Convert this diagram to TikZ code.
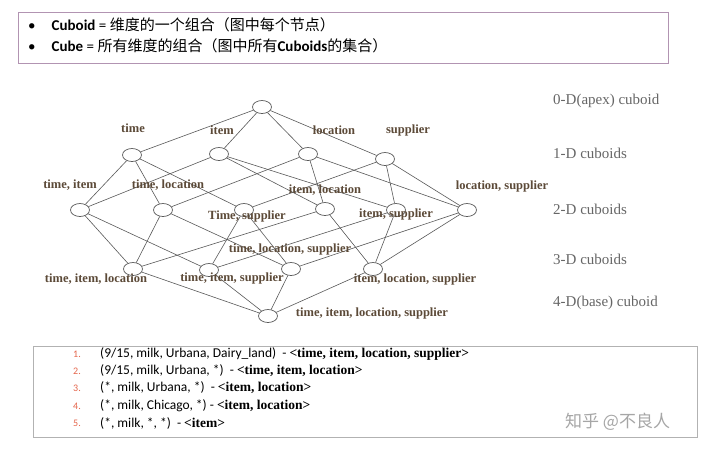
\documentclass[tikz,border=0pt]{standalone}
\usepackage{fontspec}
\usetikzlibrary{shapes.geometric}
\setmainfont{Liberation Serif}
\newfontfamily\carlito{Carlito}
\newfontfamily\cjk{Noto Sans CJK SC}
\begin{document}
\begin{tikzpicture}[x=1pt,y=-1pt,
  cub/.style={draw=black!65,ellipse,minimum width=19pt,minimum height=13pt,inner sep=0pt,line width=0.7pt,fill=white},
  lbl/.style={text=black!60!brown!70!gray,font=\bfseries\fontsize{12.5}{13}\selectfont,inner sep=0pt},
  lvl/.style={text=black!60,font=\fontsize{15}{16}\selectfont,anchor=west,inner sep=0pt},
  ed/.style={draw=black!65,line width=0.6pt}]
\useasboundingbox (0,0) rectangle (716,451);
\fill[white] (0,0) rectangle (716,451);
% top box
\node[draw=violet!40!gray!60,line width=0.6pt,minimum width=650pt,minimum height=51pt,anchor=north west] (tb) at (18,12) {};
\node[anchor=west,font=\carlito\fontsize{15}{16}\selectfont,inner sep=0pt] (b1) at (28,25) {•\hspace{16pt}\textbf{Cuboid} = {\cjk 维度的一个组合（图中每个节点）}};
\node[anchor=west,font=\carlito\fontsize{15}{16}\selectfont,inner sep=0pt] (b2) at (28,46) {•\hspace{16pt}\textbf{Cube} = {\cjk 所有维度的组合（图中所有}\textbf{Cuboids}{\cjk 的集合）}};
% nodes
\node[cub] (a) at (262,107) {};
\node[cub] (t) at (132,155) {};
\node[cub] (i) at (219,154) {};
\node[cub] (l) at (308,154) {};
\node[cub] (s) at (385,159) {};
\node[cub] (ti) at (80,210) {};
\node[cub] (tl) at (163,210) {};
\node[cub] (ts) at (244,210) {};
\node[cub] (il) at (325,209) {};
\node[cub] (is) at (396,210) {};
\node[cub] (ls) at (467,210) {};
\node[cub] (til) at (133,269) {};
\node[cub] (tis) at (209,270) {};
\node[cub] (tls) at (291,269) {};
\node[cub] (ils) at (373,269) {};
\node[cub] (b) at (268,316) {};
\foreach \u/\v in {a/t,a/i,a/l,a/s,
  t/ti,t/tl,t/ts,i/ti,i/il,i/is,l/tl,l/il,l/ls,s/ts,s/is,s/ls,
  ti/til,tl/til,il/til,ti/tis,ts/tis,is/tis,tl/tls,ts/tls,ls/tls,il/ils,is/ils,ls/ils,
  til/b,tis/b,tls/b,ils/b}
  \draw[ed] (\u) -- (\v);
% labels
\node[lbl] (Lt) at (133,128) {time};
\node[lbl] (Li) at (222,130) {item};
\node[lbl] (Ll) at (334,130) {location};
\node[lbl] (Ls) at (408,130) {supplier};
\node[lbl] (Lti) at (70,185) {time, item};
\node[lbl] (Ltl) at (168,185) {time, location};
\node[lbl] (Lil) at (325,190) {item, location};
\node[lbl] (Lts) at (247,216) {Time, supplier};
\node[lbl] (Lis) at (396,214) {item, supplier};
\node[lbl] (Lls) at (502,186) {location, supplier};
\node[lbl] (Ltls) at (290,249) {time, location, supplier};
\node[lbl] (Ltil) at (96,279) {time, item, location};
\node[lbl] (Ltis) at (232,278) {time, item, supplier};
\node[lbl] (Lils) at (415,279) {item, location, supplier};
\node[lbl] (Lb) at (372,313) {time, item, location, supplier};
\node[lvl] (v0) at (553,101) {0-D(apex) cuboid};
\node[lvl] (v1) at (553,153) {1-D cuboids};
\node[lvl] (v2) at (553,209) {2-D cuboids};
\node[lvl] (v3) at (553,259) {3-D cuboids};
\node[lvl] (v4) at (553,303) {4-D(base) cuboid};
% bottom box
\node[draw=black!30,line width=0.6pt,minimum width=664pt,minimum height=91pt,anchor=north west] (bb) at (33,346) {};
\foreach \n/\y/\t in {1/354/{(9/15, milk, Urbana, Dairy\_land)\ \ - \textrm{\bfseries <time, item, location, supplier>}},
  2/371/{(9/15, milk, Urbana, *)\ \ - \textrm{\bfseries <time, item, location>}},
  3/388/{(*, milk, Urbana, *)\ \ - \textrm{\bfseries <item, location>}},
  4/406/{(*, milk, Chicago, *) - \textrm{\bfseries <item, location>}},
  5/423/{(*, milk, *, *)\ \ - \textrm{\bfseries <item>}}}{
  \node[anchor=west,inner sep=0pt,text=red!50!brown!80,font=\carlito\fontsize{10}{11}\selectfont] (n\n) at (73,\y) {\n.};
  \node[anchor=west,inner sep=0pt,font=\carlito\fontsize{13.5}{14}\selectfont] (r\n) at (100,\y) {\t};
}
\node[anchor=west,inner sep=0pt,text=black!35,font=\cjk\fontsize{17}{18}\selectfont] (wm) at (565,422) {知乎 @不良人};
\end{tikzpicture}
\end{document}
